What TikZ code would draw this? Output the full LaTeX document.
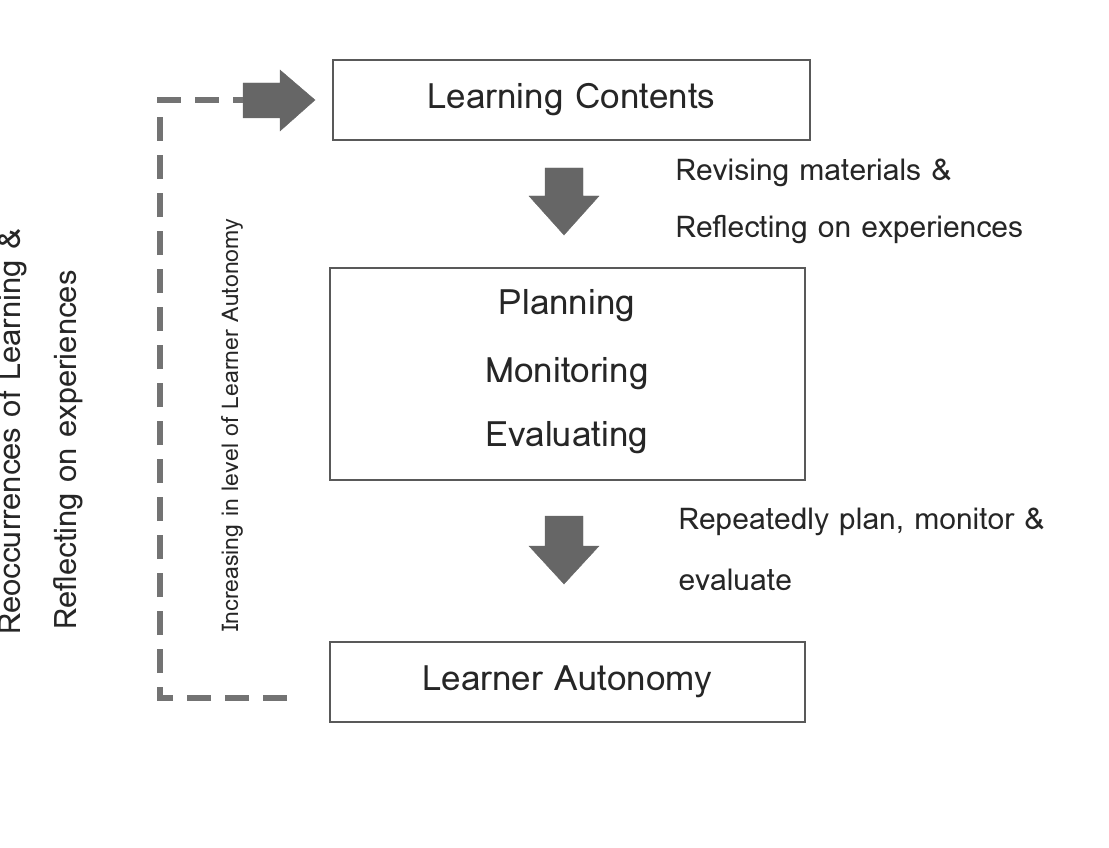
\documentclass[tikz,border=0pt]{standalone}
\usepackage{fontspec}
\setmainfont{Loma}
\usetikzlibrary{shapes.arrows}
\begin{document}
\begin{tikzpicture}[x=1pt,y=-1pt,
 box/.style={draw=black!65,line width=1.2pt,inner sep=0pt},
 bt/.style={font=\fontsize{35}{40}\selectfont,text=black!85},
 lbl/.style={anchor=west,font=\fontsize{30}{36}\selectfont,text=black!85},
 blk/.style={fill=black!60,draw=black!60}]
\useasboundingbox (0,0) rectangle (1109,848);
\node[box,bt,minimum width=477pt,minimum height=80pt] (lc) at (571.5,100) {Learning Contents};
\node[box,minimum width=475pt,minimum height=212pt] (pme) at (567.5,374) {};
\node[bt] (p1) at (567,306) {Planning};
\node[bt] (p2) at (567,374) {Monitoring};
\node[bt] (p3) at (567,438) {Evaluating};
\node[box,bt,minimum width=475pt,minimum height=80pt] (la) at (567.5,682) {Learner Autonomy};
\fill[blk] (545,168) -- (583,168) -- (583,196) -- (599,196) -- (564,235) -- (529,196) -- (545,196) -- cycle;
\fill[blk] (545,516) -- (583,516) -- (583,546) -- (599,546) -- (564,584) -- (529,546) -- (545,546) -- cycle;
\fill[blk] (243,83) -- (280,83) -- (280,70) -- (315,100) -- (280,131) -- (280,118) -- (243,118) -- cycle;
\coordinate (d0) at (287,698);
\coordinate (d1) at (160,698);
\coordinate (d2) at (160,100);
\coordinate (d3) at (243,100);
\draw[black!55,line width=5.5pt,dash pattern=on 24pt off 14pt] (d0) -- (d1) -- (d2) -- (d3);
\node[lbl] (t1) at (672,173) {Revising materials \&};
\node[lbl] (t2) at (672,230) {Reflecting on experiences};
\node[lbl] (t3) at (675,522) {Repeatedly plan, monitor \&};
\node[lbl] (t4) at (675,580) {evaluate};
\node[rotate=90,font=\fontsize{23}{28}\selectfont,text=black!85] (r1) at (232,425) {Increasing in level of Learner Autonomy};
\node[rotate=90,font=\fontsize{31}{36}\selectfont,text=black!85] (r2) at (12,432) {Reoccurrences of Learning \&};
\node[rotate=90,font=\fontsize{31}{36}\selectfont,text=black!85] (r3) at (68,450) {Reflecting on experiences};
\end{tikzpicture}
\end{document}
